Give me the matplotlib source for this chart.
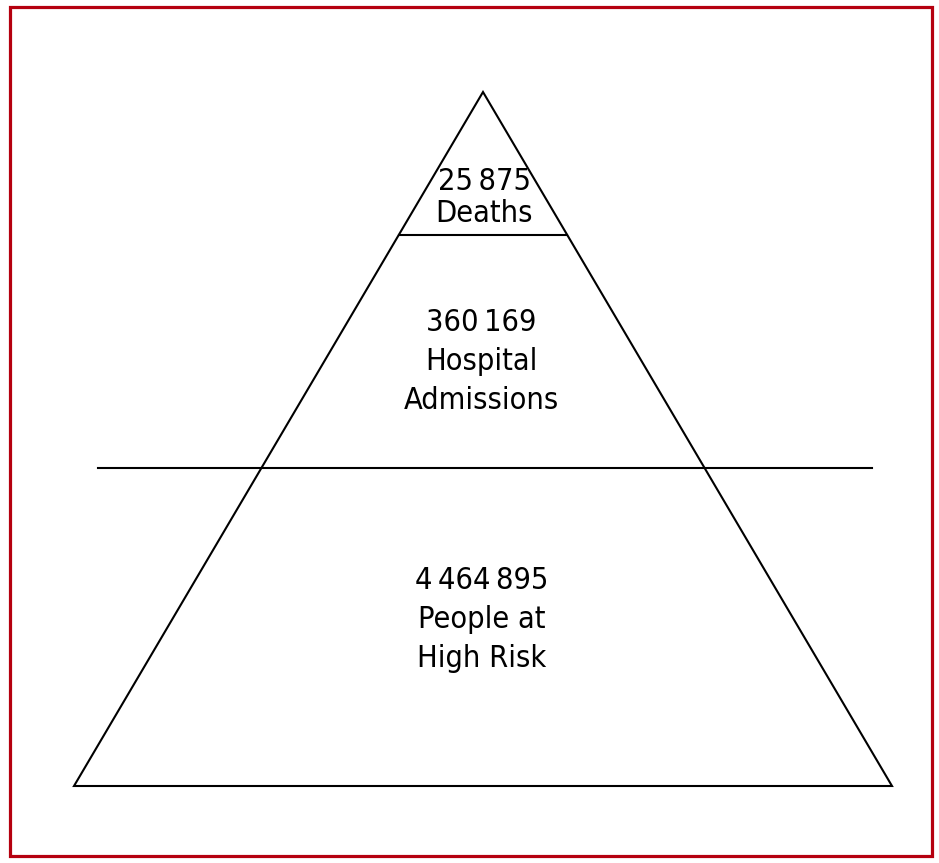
import matplotlib.pyplot as plt
from matplotlib.patches import Polygon, Rectangle

# pyramid levels, top to bottom
counts = [25875, 360169, 4464895]
labels = [["Deaths"], ["Hospital", "Admissions"], ["People at", "High Risk"]]

plt.rcParams["font.family"] = ["DejaVu Sans"]

fig = plt.figure(figsize=(9.39, 8.63), dpi=100)
ax = fig.add_axes([0, 0, 1, 1])
ax.set_xlim(0, 939)
ax.set_ylim(863, 0)
ax.axis("off")

# red frame
ax.add_patch(Rectangle((10, 7), 922, 849, fill=False, ec="#b5000f", lw=2.3))

# triangle
apex = (483, 92)
base_l, base_r = (74, 786), (892, 786)
ax.add_patch(Polygon([apex, base_l, base_r], closed=True, fill=False, ec="black", lw=1.5))

# cut below the top level, only inside the triangle
y_cut = 235
t = (y_cut - apex[1]) / (base_l[1] - apex[1])
xl = apex[0] + t * (base_l[0] - apex[0])
xr = apex[0] + t * (base_r[0] - apex[0])
ax.plot([xl, xr], [y_cut, y_cut], color="black", lw=1.5)

# long line across the pyramid
ax.plot([98, 872], [468, 468], color="black", lw=1.5)


def fmt(n):
    # thin space between digit groups
    return f"{n:,}".replace(",", "\u2009")


# text lines: (x, first line y, line step)
spots = [(484, 182, 31), (481, 322, 39), (482, 580, 39)]
for n, lab, (x, y0, step) in zip(counts, labels, spots):
    lines = [fmt(n)] + lab
    for i, s in enumerate(lines):
        ax.text(x, y0 + i * step, s, ha="center", va="center", fontsize=22,
                fontstretch="condensed", color="black")

fig.savefig("out.png", dpi=100)
